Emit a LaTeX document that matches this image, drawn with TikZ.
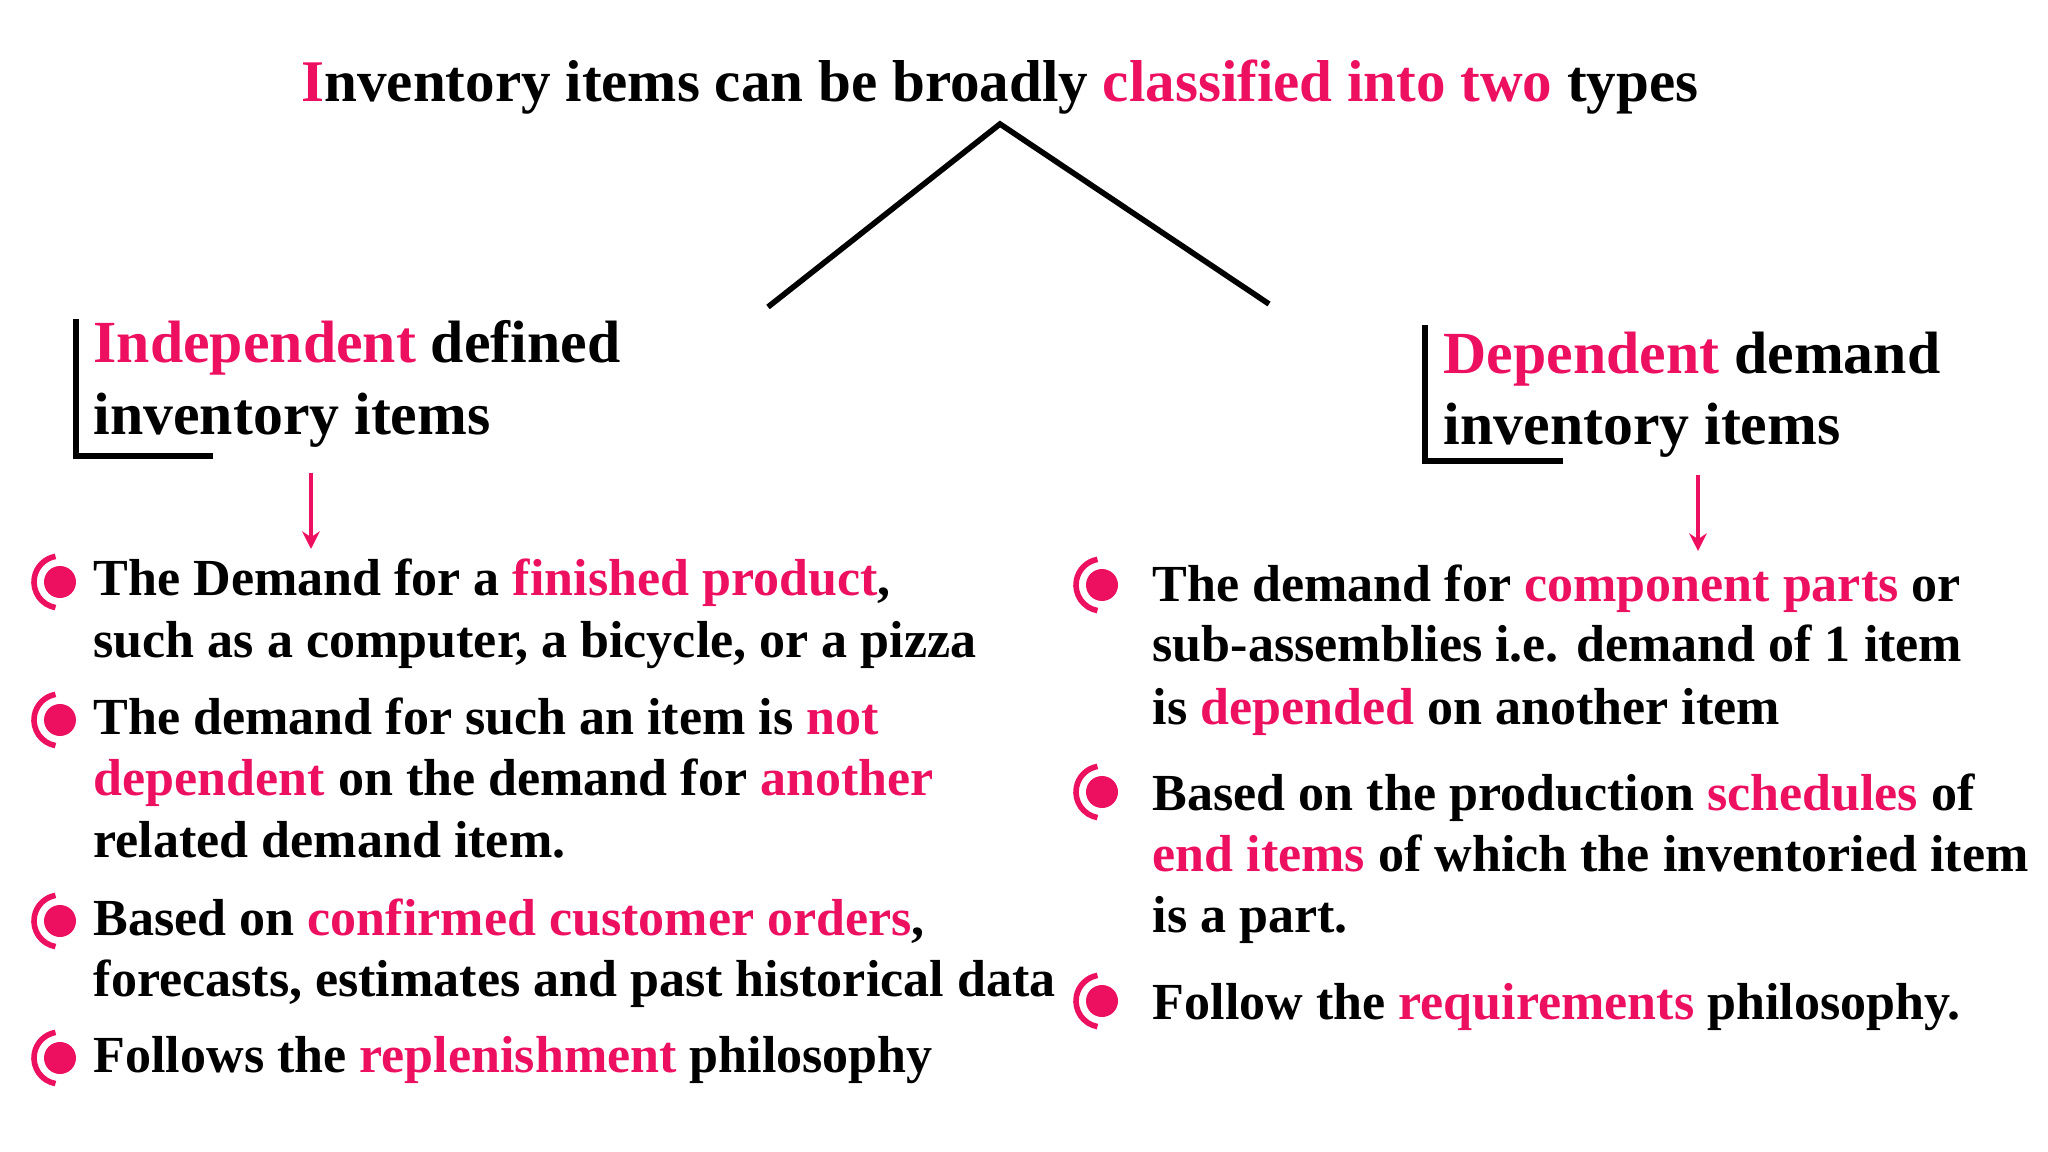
\documentclass[tikz,border=0pt]{standalone}
\usepackage{fontspec}
\usetikzlibrary{arrows.meta}
\setmainfont{Liberation Serif}
\definecolor{pk}{HTML}{EE1060}
\newcommand{\hl}[1]{\textcolor{pk}{#1}}
\begin{document}
\begin{tikzpicture}[x=0.01cm,y=-0.01cm,
 tx/.style={anchor=base west,inner sep=0,font=\fontsize{14.8}{18}\selectfont\bfseries},
 hd/.style={anchor=base west,inner sep=0,font=\fontsize{17}{20}\selectfont\bfseries},
 ln/.style={line width=1.6pt},
 ar/.style={pk,line width=1.3pt,-{Stealth[length=5pt,width=5pt]}}]
\useasboundingbox (0,0) rectangle (2048,1152);
\newcommand{\bul}[3]{\fill[pk] (#1,#2) circle (16);
 \draw[pk,line width=1.6pt] (#1,#2) ++(100:26) arc (100:260:26);
 \coordinate (#3) at (#1,#2);}
\node[anchor=base,inner sep=0,font=\fontsize{16.8}{20}\selectfont\bfseries] (title) at (1000,102) {\hl{I}nventory items can be broadly \hl{classified into two} types};
\coordinate (apex) at (1000,124);
\coordinate (le) at (768,307);
\coordinate (re) at (1269,304);
\draw[ln] (le) -- (apex) -- (re);
% left heading
\node[hd] (lh1) at (93,363) {\hl{Independent} defined};
\node[hd] (lh2) at (93,435) {inventory items};
\draw[ln] (76,319) -- (76,456) -- (213,456);
\node[hd] (rh1) at (1443,374) {\hl{Dependent} demand};
\node[hd] (rh2) at (1443,445) {inventory items};
\draw[ln] (1425,325) -- (1425,461) -- (1563,461);
\coordinate (la1) at (311,473); \coordinate (la2) at (311,549);
\coordinate (ra1) at (1698,475); \coordinate (ra2) at (1698,551);
\draw[ar] (la1) -- (la2);
\draw[ar] (ra1) -- (ra2);
% left bullets
\bul{60}{582}{b1}
\node[tx] (l1) at (93,596) {The Demand for a \hl{finished product},};
\node[tx] (l2) at (93,657) {such as a computer, a bicycle, or a pizza};
\bul{60}{720}{b2}
\node[tx] (l3) at (93,734) {The demand for such an item is \hl{not}};
\node[tx] (l4) at (93,795) {\hl{dependent} on the demand for \hl{another}};
\node[tx] (l5) at (93,857) {related demand item.};
\bul{60}{921}{b3}
\node[tx] (l6) at (93,935) {Based on \hl{confirmed customer orders},};
\node[tx] (l7) at (93,996) {forecasts, estimates and past historical data};
\bul{60}{1058}{b4}
\node[tx] (l8) at (93,1072) {Follows the \hl{replenishment} philosophy};
% right bullets
\bul{1102}{585}{c1}
\node[tx] (r1) at (1152,601) {The demand for \hl{component parts} or};
\node[tx] (r2) at (1152,662) {sub-assemblies i.e. demand of 1 item};
\node[tx] (r3) at (1152,724) {is \hl{depended} on another item};
\bul{1102}{792}{c2}
\node[tx] (r4) at (1152,810) {Based on the production \hl{schedules} of};
\node[tx] (r5) at (1152,871) {\hl{end items} of which the inventoried item};
\node[tx] (r6) at (1152,932) {is a part.};
\bul{1102}{1001}{c3}
\node[tx] (r7) at (1152,1019) {Follow the \hl{requirements} philosophy.};
\end{tikzpicture}
\end{document}
